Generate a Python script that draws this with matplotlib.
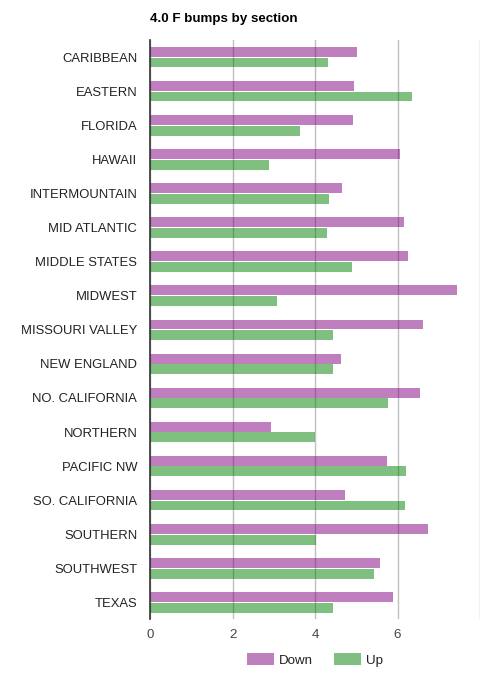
import matplotlib
matplotlib.use('Agg')
import matplotlib.pyplot as plt
from matplotlib.patches import Patch
import numpy as np

plt.rcParams['font.family'] = ['Liberation Sans', 'DejaVu Sans']

# ========== Datos ==========
sections = ['CARIBBEAN', 'EASTERN', 'FLORIDA', 'HAWAII', 'INTERMOUNTAIN',
            'MID ATLANTIC', 'MIDDLE STATES', 'MIDWEST', 'MISSOURI VALLEY',
            'NEW ENGLAND', 'NO. CALIFORNIA', 'NORTHERN', 'PACIFIC NW',
            'SO. CALIFORNIA', 'SOUTHERN', 'SOUTHWEST', 'TEXAS']
down = [5.02, 4.95, 4.92, 6.07, 4.66, 6.16, 6.26, 7.43, 6.62,
        4.63, 6.55, 2.93, 5.75, 4.73, 6.75, 5.58, 5.90]
up = [4.32, 6.36, 3.64, 2.88, 4.34, 4.29, 4.90, 3.08, 4.44,
      4.44, 5.77, 4.00, 6.21, 6.19, 4.02, 5.43, 4.44]
x_ticks = [0, 2, 4, 6, 8]
x_tick_labels = ['0', '2', '4', '6', '']
title = '4.0 F bumps by section'

# ========== Grafica ==========
fs = 9.4
fig = plt.figure(figsize=(4.8, 6.8), dpi=100)
ax = fig.add_axes([0.313, 0.089, 0.687, 0.852])

y = np.arange(len(sections))
h = 0.29
ax.barh(y - 0.155, down, height=h, color='#800080', alpha=0.5, zorder=2, label='Down')
ax.barh(y + 0.155, up, height=h, color='#008000', alpha=0.5, zorder=2, label='Up')

ax.set_xlim(0, 8)
ax.set_ylim(len(sections) - 0.5, -0.5)
ax.set_xticks(x_ticks)
ax.set_xticklabels(x_tick_labels)
ax.set_yticks(y)
ax.set_yticklabels(sections)

ax.xaxis.grid(True, color='#c0c0c0', linewidth=1, zorder=1)
ax.set_axisbelow(True)
for s in ['top', 'right', 'bottom']:
    ax.spines[s].set_visible(False)
ax.spines['left'].set_color('#333333')
ax.spines['left'].set_linewidth(1.2)
ax.spines['left'].set_zorder(3)

ax.tick_params(axis='x', length=0, pad=7, labelsize=9.6, labelcolor='#444444')
ax.tick_params(axis='y', length=0, pad=9.4, labelsize=fs, labelcolor='#222222')

fig.text(150 / 480, 1 - 19 / 680, title, fontsize=9.6, fontweight='bold',
         ha='left', va='center', color='#000000')

handles = [Patch(facecolor='#800080', alpha=0.5, label='Down'),
           Patch(facecolor='#008000', alpha=0.5, label='Up')]
ax.legend(handles=handles, loc='center', bbox_to_anchor=(0.5, -0.07), ncol=2,
          frameon=False, fontsize=9.6, handlelength=2.0, handleheight=1.0,
          handletextpad=0.4, columnspacing=1.6, labelcolor='#222222')

plt.savefig('out.png', dpi=100)
plt.close(fig)
